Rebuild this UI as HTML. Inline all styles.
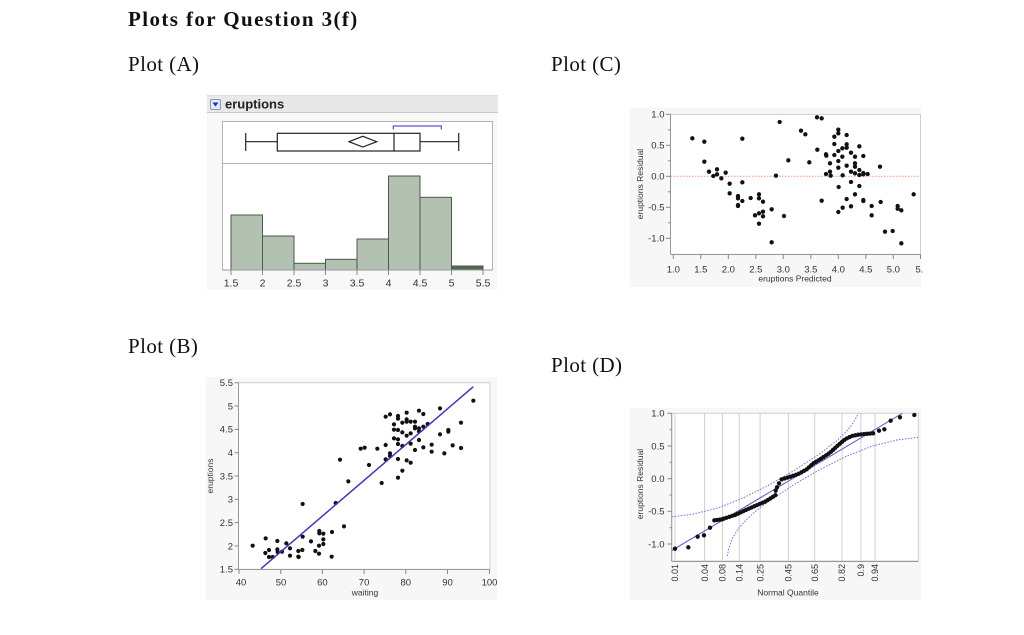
<!DOCTYPE html>
<html>
<head>
<meta charset="utf-8">
<style>
html,body{margin:0;padding:0;background:#fff;}
svg{display:block;}
.ser{font-family:"Liberation Serif",serif;fill:#111;}
.t{font-family:"Liberation Sans",sans-serif;fill:#333;}
</style>
</head>
<body>
<svg width="1024" height="635" viewBox="0 0 1024 635" xmlns="http://www.w3.org/2000/svg">
<rect width="1024" height="635" fill="#fff"/>

<!-- Titles -->
<text class="ser" x="128" y="26" font-size="21" font-weight="bold" letter-spacing="1.4">Plots for Question 3(f)</text>
<text class="ser" x="128" y="71" font-size="21" letter-spacing="0.4">Plot (A)</text>
<text class="ser" x="551" y="71" font-size="21" letter-spacing="0.4">Plot (C)</text>
<text class="ser" x="128" y="353" font-size="21" letter-spacing="0.4">Plot (B)</text>
<text class="ser" x="551" y="372" font-size="21" letter-spacing="0.4">Plot (D)</text>

<!-- ================= PLOT A ================= -->
<rect x="207" y="95" width="291" height="18" fill="#e8e8e8"/>
<line x1="207" y1="112.5" x2="498" y2="112.5" stroke="#c8c8c8"/>
<line x1="207" y1="95.5" x2="498" y2="95.5" stroke="#dcdcdc"/>
<rect x="207" y="113" width="290" height="177" fill="#f8f8f8"/>
<rect x="210.5" y="99.5" width="10" height="10" rx="1.5" fill="#e6eaf5" stroke="#8894c4"/>
<polygon points="212.5,102.5 218.5,102.5 215.5,106.5" fill="#1f2fa0"/>
<text class="t" x="225" y="108.5" font-size="13" font-weight="bold" style="fill:#222">eruptions</text>

<rect x="222.5" y="121.5" width="270" height="148.5" fill="#fff" stroke="#b4b4b4"/>
<line x1="222.5" y1="163.5" x2="492.5" y2="163.5" stroke="#b4b4b4"/>
<!-- box plot -->
<g stroke="#222" stroke-width="1.2" fill="none">
<line x1="245.7" y1="141.7" x2="277.3" y2="141.7"/>
<line x1="420" y1="141.7" x2="458.7" y2="141.7"/>
<line x1="245.7" y1="133" x2="245.7" y2="151"/>
<line x1="458.7" y1="133" x2="458.7" y2="151"/>
<rect x="277.3" y="133.3" width="142.7" height="17.7"/>
<line x1="394" y1="133.3" x2="394" y2="151"/>
<polygon points="349,141.7 362.8,136.3 376.7,141.7 362.8,147"/>
</g>
<polyline points="393.3,129.5 393.3,126 441.3,126 441.3,129.5" fill="none" stroke="#5a50d0" stroke-width="1.2"/>
<!-- histogram -->
<g fill="#b3c1b3" stroke="#4a5a4a" stroke-width="1">
<rect x="231" y="215" width="31.5" height="55"/>
<rect x="262.5" y="236" width="31.5" height="34"/>
<rect x="294" y="263.3" width="31.5" height="6.7"/>
<rect x="325.5" y="259.3" width="31.5" height="10.7"/>
<rect x="357" y="239" width="31.5" height="31"/>
<rect x="388.5" y="176" width="31.5" height="94"/>
<rect x="420" y="197.3" width="31.5" height="72.7"/>
<rect x="451.5" y="266" width="31.5" height="4" fill="#4f6a4f"/>
</g>
<line x1="222.5" y1="270" x2="492.5" y2="270" stroke="#999"/>
<g stroke="#888">
<line x1="231" y1="270" x2="231" y2="275"/><line x1="262.5" y1="270" x2="262.5" y2="275"/>
<line x1="294" y1="270" x2="294" y2="275"/><line x1="325.5" y1="270" x2="325.5" y2="275"/>
<line x1="357" y1="270" x2="357" y2="275"/><line x1="388.5" y1="270" x2="388.5" y2="275"/>
<line x1="420" y1="270" x2="420" y2="275"/><line x1="451.5" y1="270" x2="451.5" y2="275"/>
<line x1="483" y1="270" x2="483" y2="275"/>
</g>
<g class="t" font-size="10.5" text-anchor="middle">
<text x="231" y="286.5">1.5</text><text x="262.5" y="286.5">2</text><text x="294" y="286.5">2.5</text>
<text x="325.5" y="286.5">3</text><text x="357" y="286.5">3.5</text><text x="388.5" y="286.5">4</text>
<text x="420" y="286.5">4.5</text><text x="451.5" y="286.5">5</text><text x="483" y="286.5">5.5</text>
</g>

<!-- ================= PLOT C ================= -->
<rect x="630" y="107.7" width="291" height="179.3" fill="#f7f7f7"/>
<rect x="670.5" y="114.3" width="250" height="140" fill="#fff" stroke="#cfcfcf"/>
<line x1="670.5" y1="114" x2="670.5" y2="254.5" stroke="#999"/>
<line x1="670.5" y1="254.5" x2="920.5" y2="254.5" stroke="#999"/>
<g stroke="#888">
<line x1="666" y1="114.3" x2="670.5" y2="114.3"/><line x1="666" y1="145.3" x2="670.5" y2="145.3"/>
<line x1="666" y1="176.3" x2="670.5" y2="176.3"/><line x1="666" y1="207.3" x2="670.5" y2="207.3"/>
<line x1="666" y1="238.3" x2="670.5" y2="238.3"/>
<line x1="668" y1="129.8" x2="670.5" y2="129.8"/><line x1="668" y1="160.8" x2="670.5" y2="160.8"/>
<line x1="668" y1="191.8" x2="670.5" y2="191.8"/><line x1="668" y1="222.8" x2="670.5" y2="222.8"/>
<line x1="673.3" y1="254.5" x2="673.3" y2="259"/><line x1="700.8" y1="254.5" x2="700.8" y2="259"/>
<line x1="728.3" y1="254.5" x2="728.3" y2="259"/><line x1="755.8" y1="254.5" x2="755.8" y2="259"/>
<line x1="783.3" y1="254.5" x2="783.3" y2="259"/><line x1="810.8" y1="254.5" x2="810.8" y2="259"/>
<line x1="838.3" y1="254.5" x2="838.3" y2="259"/><line x1="865.8" y1="254.5" x2="865.8" y2="259"/>
<line x1="893.3" y1="254.5" x2="893.3" y2="259"/><line x1="920.5" y1="254.5" x2="920.5" y2="259"/>
</g>
<g class="t" font-size="9.5" text-anchor="end">
<text x="664.5" y="117.6">1.0</text><text x="664.5" y="148.6">0.5</text><text x="664.5" y="179.6">0.0</text>
<text x="664.5" y="210.6">-0.5</text><text x="664.5" y="241.6">-1.0</text>
</g>
<g class="t" font-size="9.5" text-anchor="middle">
<text x="673.3" y="272.5">1.0</text><text x="700.8" y="272.5">1.5</text><text x="728.3" y="272.5">2.0</text>
<text x="755.8" y="272.5">2.5</text><text x="783.3" y="272.5">3.0</text><text x="810.8" y="272.5">3.5</text>
<text x="838.3" y="272.5">4.0</text><text x="865.8" y="272.5">4.5</text><text x="893.3" y="272.5">5.0</text>
</g>
<text class="t" x="915.5" y="272.5" font-size="9.5">5.</text>
<text class="t" x="795" y="281.5" font-size="8.5" text-anchor="middle">eruptions Predicted</text>
<text class="t" transform="translate(643,184) rotate(-90)" font-size="8.5" text-anchor="middle">eruptions Residual</text>
<line x1="671" y1="176.3" x2="920" y2="176.3" stroke="#f09a78" stroke-width="1" stroke-dasharray="1.5 1.5"/>
<g transform="translate(625,105) scale(0.33333)" fill="#111">
<circle cx="202" cy="100" r="6.5"/><circle cx="238" cy="110" r="6.5"/><circle cx="238" cy="170" r="6.5"/>
<circle cx="252" cy="200" r="6.5"/><circle cx="265" cy="213" r="6.5"/><circle cx="276" cy="208" r="6.5"/>
<circle cx="276" cy="193" r="6.5"/><circle cx="289" cy="220" r="6.5"/><circle cx="302" cy="203" r="6.5"/>
<circle cx="314" cy="236" r="6.5"/><circle cx="314" cy="265" r="6.5"/><circle cx="339" cy="273" r="6.5"/>
<circle cx="339" cy="280" r="6.5"/><circle cx="339" cy="300" r="6.5"/><circle cx="339" cy="303" r="6.5"/>
<circle cx="352" cy="288" r="6.5"/><circle cx="352" cy="232" r="6.5"/><circle cx="352" cy="101" r="6.5"/>
<circle cx="377" cy="279" r="6.5"/><circle cx="390" cy="331" r="6.5"/><circle cx="402" cy="268" r="6.5"/>
<circle cx="402" cy="280" r="6.5"/><circle cx="402" cy="325" r="6.5"/><circle cx="402" cy="356" r="6.5"/>
<circle cx="414" cy="290" r="6.5"/><circle cx="414" cy="320" r="6.5"/><circle cx="414" cy="334" r="6.5"/>
<circle cx="440" cy="313" r="6.5"/><circle cx="440" cy="412" r="6.5"/><circle cx="453" cy="212" r="6.5"/>
<circle cx="464" cy="51" r="6.5"/><circle cx="477" cy="333" r="6.5"/><circle cx="490" cy="166" r="6.5"/>
<circle cx="528" cy="77" r="6.5"/><circle cx="541" cy="88" r="6.5"/><circle cx="553" cy="172" r="6.5"/>
<circle cx="577" cy="134" r="6.5"/><circle cx="576" cy="37" r="6.5"/><circle cx="590" cy="40" r="6.5"/>
<circle cx="590" cy="287" r="6.5"/><circle cx="603" cy="148" r="6.5"/><circle cx="604" cy="152" r="6.5"/>
<circle cx="603" cy="207" r="6.5"/><circle cx="615" cy="175" r="6.5"/><circle cx="615" cy="200" r="6.5"/>
<circle cx="617" cy="212" r="6.5"/><circle cx="628" cy="95" r="6.5"/><circle cx="628" cy="117" r="6.5"/>
<circle cx="628" cy="150" r="6.5"/><circle cx="640" cy="74" r="6.5"/><circle cx="640" cy="85" r="6.5"/>
<circle cx="640" cy="138" r="6.5"/><circle cx="640" cy="168" r="6.5"/><circle cx="640" cy="188" r="6.5"/>
<circle cx="641" cy="246" r="6.5"/><circle cx="640" cy="321" r="6.5"/><circle cx="652" cy="130" r="6.5"/>
<circle cx="652" cy="155" r="6.5"/><circle cx="653" cy="211" r="6.5"/><circle cx="653" cy="308" r="6.5"/>
<circle cx="665" cy="90" r="6.5"/><circle cx="665" cy="118" r="6.5"/><circle cx="665" cy="128" r="6.5"/>
<circle cx="665" cy="182" r="6.5"/><circle cx="665" cy="282" r="6.5"/><circle cx="678" cy="143" r="6.5"/>
<circle cx="678" cy="200" r="6.5"/><circle cx="678" cy="231" r="6.5"/><circle cx="678" cy="304" r="6.5"/>
<circle cx="690" cy="155" r="6.5"/><circle cx="690" cy="175" r="6.5"/><circle cx="690" cy="185" r="6.5"/>
<circle cx="690" cy="205" r="6.5"/><circle cx="690" cy="268" r="6.5"/><circle cx="703" cy="124" r="6.5"/>
<circle cx="703" cy="195" r="6.5"/><circle cx="703" cy="210" r="6.5"/><circle cx="703" cy="243" r="6.5"/>
<circle cx="715" cy="153" r="6.5"/><circle cx="715" cy="204" r="6.5"/><circle cx="715" cy="208" r="6.5"/>
<circle cx="715" cy="285" r="6.5"/><circle cx="715" cy="288" r="6.5"/><circle cx="728" cy="207" r="6.5"/>
<circle cx="740" cy="303" r="6.5"/><circle cx="740" cy="331" r="6.5"/><circle cx="765" cy="185" r="6.5"/>
<circle cx="767" cy="291" r="6.5"/><circle cx="780" cy="380" r="6.5"/><circle cx="803" cy="378" r="6.5"/>
<circle cx="818" cy="303" r="6.5"/><circle cx="818" cy="311" r="6.5"/><circle cx="829" cy="316" r="6.5"/>
<circle cx="829" cy="415" r="6.5"/><circle cx="866" cy="268" r="6.5"/>
</g>

<!-- ================= PLOT B ================= -->
<rect x="206" y="377" width="291" height="223" fill="#f7f7f7"/>
<rect x="238.5" y="382.7" width="251.5" height="186.6" fill="#fff" stroke="#cfcfcf"/>
<line x1="238.5" y1="382.5" x2="238.5" y2="569.5" stroke="#999"/>
<line x1="238.5" y1="569.5" x2="490" y2="569.5" stroke="#999"/>
<g stroke="#888">
<line x1="234.5" y1="382.7" x2="238.5" y2="382.7"/><line x1="234.5" y1="406" x2="238.5" y2="406"/>
<line x1="234.5" y1="429.4" x2="238.5" y2="429.4"/><line x1="234.5" y1="452.7" x2="238.5" y2="452.7"/>
<line x1="234.5" y1="476" x2="238.5" y2="476"/><line x1="234.5" y1="499.3" x2="238.5" y2="499.3"/>
<line x1="234.5" y1="522.6" x2="238.5" y2="522.6"/><line x1="234.5" y1="546" x2="238.5" y2="546"/>
<line x1="234.5" y1="569.3" x2="238.5" y2="569.3"/>
<line x1="239" y1="569.5" x2="239" y2="574"/><line x1="280.7" y1="569.5" x2="280.7" y2="574"/>
<line x1="322.4" y1="569.5" x2="322.4" y2="574"/><line x1="364.1" y1="569.5" x2="364.1" y2="574"/>
<line x1="405.8" y1="569.5" x2="405.8" y2="574"/><line x1="447.5" y1="569.5" x2="447.5" y2="574"/>
<line x1="489.5" y1="569.5" x2="489.5" y2="574"/>
</g>
<g class="t" font-size="9.5" text-anchor="end">
<text x="233" y="386">5.5</text><text x="233" y="409.3">5</text><text x="233" y="432.7">4.5</text>
<text x="233" y="456">4</text><text x="233" y="479.3">3.5</text><text x="233" y="502.6">3</text>
<text x="233" y="525.9">2.5</text><text x="233" y="549.3">2</text><text x="233" y="572.6">1.5</text>
</g>
<g class="t" font-size="9.5" text-anchor="middle">
<text x="241" y="585.5">40</text><text x="281" y="585.5">50</text><text x="322.4" y="585.5">60</text>
<text x="364.1" y="585.5">70</text><text x="405.8" y="585.5">80</text><text x="447.5" y="585.5">90</text>
<text x="489.5" y="585.5">100</text>
</g>
<text class="t" x="365" y="595.5" font-size="8.5" text-anchor="middle">waiting</text>
<text class="t" transform="translate(213,476) rotate(-90)" font-size="8.5" text-anchor="middle">eruptions</text>
<g transform="translate(200,370) scale(0.33333)" fill="#111">
<circle cx="158" cy="527" r="6.3"/><circle cx="197" cy="505" r="6.3"/><circle cx="196" cy="549" r="6.3"/>
<circle cx="207" cy="561" r="6.3"/><circle cx="207" cy="540" r="6.3"/><circle cx="218" cy="561" r="6.3"/>
<circle cx="232" cy="538" r="6.3"/><circle cx="232" cy="513" r="6.3"/><circle cx="233" cy="546" r="6.3"/>
<circle cx="246" cy="545" r="6.3"/><circle cx="259" cy="520" r="6.3"/><circle cx="270" cy="535" r="6.3"/>
<circle cx="270" cy="557" r="6.3"/><circle cx="295" cy="560" r="6.3"/><circle cx="295" cy="543" r="6.3"/>
<circle cx="296" cy="561" r="6.3"/><circle cx="307" cy="540" r="6.3"/><circle cx="308" cy="402" r="6.3"/>
<circle cx="308" cy="500" r="6.3"/><circle cx="333" cy="514" r="6.3"/><circle cx="346" cy="543" r="6.3"/>
<circle cx="357" cy="551" r="6.3"/><circle cx="357" cy="527" r="6.3"/><circle cx="358" cy="490" r="6.3"/>
<circle cx="358" cy="483" r="6.3"/><circle cx="370" cy="491" r="6.3"/><circle cx="370" cy="522" r="6.3"/>
<circle cx="370" cy="508" r="6.3"/><circle cx="395" cy="560" r="6.3"/><circle cx="396" cy="486" r="6.3"/>
<circle cx="407" cy="399" r="6.3"/><circle cx="420" cy="269" r="6.3"/><circle cx="432" cy="469" r="6.3"/>
<circle cx="445" cy="334" r="6.3"/><circle cx="482" cy="236" r="6.3"/><circle cx="494" cy="233" r="6.3"/>
<circle cx="507" cy="285" r="6.3"/><circle cx="532" cy="236" r="6.3"/><circle cx="545" cy="339" r="6.3"/>
<circle cx="557" cy="140" r="6.3"/><circle cx="557" cy="225" r="6.3"/><circle cx="557" cy="268" r="6.3"/>
<circle cx="570" cy="133" r="6.3"/><circle cx="570" cy="250" r="6.3"/><circle cx="570" cy="258" r="6.3"/>
<circle cx="582" cy="163" r="6.3"/><circle cx="582" cy="179" r="6.3"/><circle cx="582" cy="205" r="6.3"/>
<circle cx="594" cy="138" r="6.3"/><circle cx="594" cy="146" r="6.3"/><circle cx="594" cy="180" r="6.3"/>
<circle cx="594" cy="208" r="6.3"/><circle cx="594" cy="222" r="6.3"/><circle cx="594" cy="267" r="6.3"/>
<circle cx="594" cy="323" r="6.3"/><circle cx="607" cy="158" r="6.3"/><circle cx="607" cy="187" r="6.3"/>
<circle cx="607" cy="228" r="6.3"/><circle cx="607" cy="302" r="6.3"/><circle cx="620" cy="128" r="6.3"/>
<circle cx="620" cy="148" r="6.3"/><circle cx="620" cy="155" r="6.3"/><circle cx="620" cy="197" r="6.3"/>
<circle cx="620" cy="271" r="6.3"/><circle cx="632" cy="155" r="6.3"/><circle cx="632" cy="190" r="6.3"/>
<circle cx="632" cy="221" r="6.3"/><circle cx="632" cy="278" r="6.3"/><circle cx="645" cy="155" r="6.3"/>
<circle cx="645" cy="170" r="6.3"/><circle cx="645" cy="175" r="6.3"/><circle cx="645" cy="240" r="6.3"/>
<circle cx="657" cy="122" r="6.3"/><circle cx="657" cy="175" r="6.3"/><circle cx="657" cy="210" r="6.3"/>
<circle cx="657" cy="184" r="6.3"/><circle cx="670" cy="132" r="6.3"/><circle cx="670" cy="170" r="6.3"/>
<circle cx="670" cy="232" r="6.3"/><circle cx="683" cy="162" r="6.3"/><circle cx="695" cy="224" r="6.3"/>
<circle cx="695" cy="245" r="6.3"/><circle cx="720" cy="115" r="6.3"/><circle cx="720" cy="193" r="6.3"/>
<circle cx="733" cy="250" r="6.3"/><circle cx="745" cy="180" r="6.3"/><circle cx="745" cy="185" r="6.3"/>
<circle cx="758" cy="226" r="6.3"/><circle cx="783" cy="158" r="6.3"/><circle cx="783" cy="234" r="6.3"/>
<circle cx="820" cy="92" r="6.3"/>
</g>
<line x1="261" y1="568.7" x2="473.3" y2="386.7" stroke="#4535b5" stroke-width="1.5"/>

<!-- ================= PLOT D ================= -->
<rect x="630" y="407.7" width="291" height="192.3" fill="#f7f7f7"/>
<rect x="671.7" y="413.3" width="246.6" height="147.7" fill="#fff" stroke="#cfcfcf"/>
<g stroke="#d0d0d0">
<line x1="675" y1="413.5" x2="675" y2="561"/><line x1="704.6" y1="413.5" x2="704.6" y2="561"/>
<line x1="722.5" y1="413.5" x2="722.5" y2="561"/><line x1="739.2" y1="413.5" x2="739.2" y2="561"/>
<line x1="760.1" y1="413.5" x2="760.1" y2="561"/><line x1="788.4" y1="413.5" x2="788.4" y2="561"/>
<line x1="814.7" y1="413.5" x2="814.7" y2="561"/><line x1="842" y1="413.5" x2="842" y2="561"/>
<line x1="860.9" y1="413.5" x2="860.9" y2="561"/><line x1="875" y1="413.5" x2="875" y2="561"/>
</g>
<line x1="671.7" y1="413" x2="671.7" y2="561.5" stroke="#999"/>
<line x1="671.7" y1="561.5" x2="918.3" y2="561.5" stroke="#999"/>
<g stroke="#888">
<line x1="667.5" y1="413.3" x2="671.7" y2="413.3"/><line x1="667.5" y1="446" x2="671.7" y2="446"/>
<line x1="667.5" y1="478.7" x2="671.7" y2="478.7"/><line x1="667.5" y1="511.3" x2="671.7" y2="511.3"/>
<line x1="667.5" y1="544" x2="671.7" y2="544"/>
<line x1="669.5" y1="429.7" x2="671.7" y2="429.7"/><line x1="669.5" y1="462.3" x2="671.7" y2="462.3"/>
<line x1="669.5" y1="495" x2="671.7" y2="495"/><line x1="669.5" y1="527.7" x2="671.7" y2="527.7"/>
</g>
<g class="t" font-size="9.5" text-anchor="end">
<text x="664.5" y="416.6">1.0</text><text x="664.5" y="449.3">0.5</text><text x="664.5" y="482">0.0</text>
<text x="664.5" y="514.6">-0.5</text><text x="664.5" y="547.3">-1.0</text>
</g>
<g class="t" font-size="9" text-anchor="end">
<text transform="translate(678.2,564) rotate(-90)">0.01</text>
<text transform="translate(707.8,564) rotate(-90)">0.04</text>
<text transform="translate(725.7,564) rotate(-90)">0.08</text>
<text transform="translate(742.4,564) rotate(-90)">0.14</text>
<text transform="translate(763.3,564) rotate(-90)">0.25</text>
<text transform="translate(791.6,564) rotate(-90)">0.45</text>
<text transform="translate(817.9,564) rotate(-90)">0.65</text>
<text transform="translate(845.2,564) rotate(-90)">0.82</text>
<text transform="translate(864.1,564) rotate(-90)">0.9</text>
<text transform="translate(878.2,564) rotate(-90)">0.94</text>
</g>
<text class="t" x="788" y="595.5" font-size="8.5" text-anchor="middle">Normal Quantile</text>
<text class="t" transform="translate(643,484) rotate(-90)" font-size="8.5" text-anchor="middle">eruptions Residual</text>
<!-- confidence bands -->
<polyline fill="none" stroke="#7d70dc" stroke-width="1" stroke-dasharray="1.6 1.4"
 points="671.7,516.8 691.8,514.4 717.6,508.1 743.3,497.9 769.1,485.0 794.9,470.1 820.6,453.2 836.1,441.3 846.4,431.4 851.5,425.2 856.7,416.9 858.2,413.6"/>
<polyline fill="none" stroke="#7d70dc" stroke-width="1" stroke-dasharray="1.6 1.4"
 points="727.4,556.1 727.9,552.9 728.9,548.2 731.5,540.6 733.0,537.3 738.2,529.0 743.3,522.8 753.6,512.9 769.1,501.0 794.8,484.1 820.6,469.2 846.4,456.3 872.1,446.1 897.9,439.8 918.0,437.4"/>
<!-- reference line -->
<line x1="671.7" y1="550.5" x2="902.3" y2="413.3" stroke="#6a60cc" stroke-width="1.1"/>
<g transform="translate(625,400) scale(0.33333)">
<path d="M296,356 L330,345 L360,331 L390,318 L420,305 L440,293 L455,283" fill="none" stroke="#111" stroke-width="13" stroke-linecap="round" stroke-dasharray="0 9"/>
<path d="M470,238 L490,232 L520,222 L545,208 L565,190 L590,175 L615,158 L640,135 L660,118 L680,108 L700,104 L720,102 L745,100" fill="none" stroke="#111" stroke-width="13" stroke-linecap="round" stroke-dasharray="0 9"/>
<g fill="#111">
<circle cx="150" cy="446" r="6.5"/><circle cx="190" cy="442" r="6.5"/><circle cx="218" cy="410" r="6.5"/>
<circle cx="237" cy="406" r="6.5"/><circle cx="255" cy="383" r="6.5"/><circle cx="268" cy="361" r="6.5"/>
<circle cx="276" cy="360" r="6.5"/><circle cx="284" cy="359" r="6.5"/><circle cx="291" cy="358" r="6.5"/>
<circle cx="452" cy="272" r="6.5"/><circle cx="456" cy="262" r="6.5"/><circle cx="462" cy="250" r="6.5"/>
<circle cx="762" cy="92" r="6.5"/><circle cx="778" cy="88" r="6.5"/><circle cx="797" cy="62" r="6.5"/>
<circle cx="825" cy="52" r="6.5"/><circle cx="868" cy="45" r="6.5"/>
</g>
</g>
</svg>
</body>
</html>
